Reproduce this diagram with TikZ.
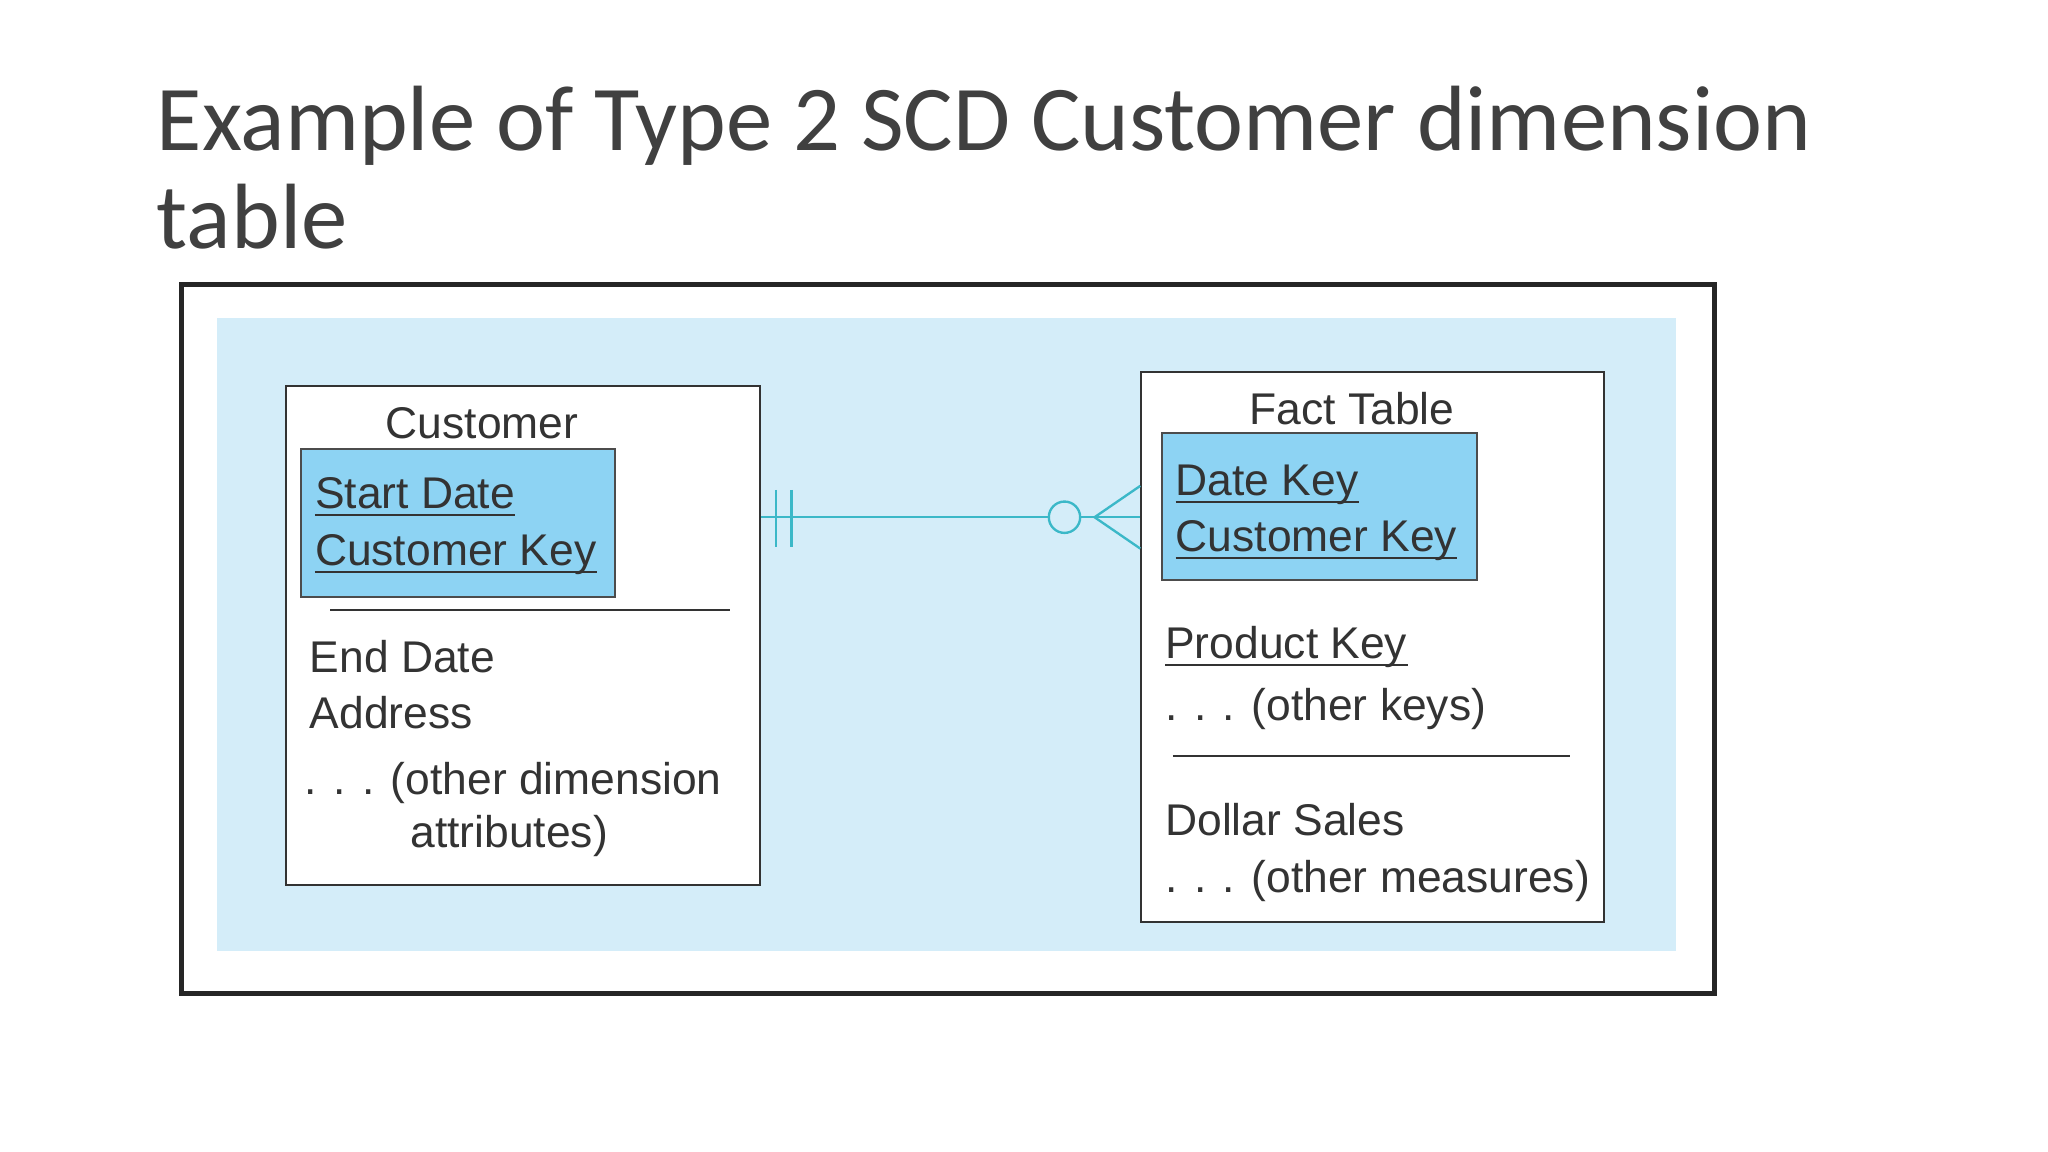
\documentclass[tikz,border=0pt]{standalone}
\usepackage{fontspec}
\setmainfont{Liberation Sans}
\newfontfamily\titlefont{Carlito}
\definecolor{bgblue}{HTML}{D4EDF9}
\definecolor{keyblue}{HTML}{8DD3F3}
\definecolor{conn}{HTML}{3BB8C8}
\definecolor{txt}{HTML}{333333}
\begin{document}
\begin{tikzpicture}[x=1pt,y=-1pt,
  box/.style={draw=black!80,line width=1.5pt,fill=white,inner sep=0pt},
  keybox/.style={draw=black!70,line width=1.5pt,fill=keyblue,inner sep=0pt},
  lbl/.style={anchor=base west,inner sep=0pt,font=\fontsize{34}{40}\selectfont,text=txt},
  ul/.style={lbl,append after command={\pgfextra{\draw[line width=1.5pt,txt] ([yshift=-5pt]\tikzlastnode.base west) -- ([yshift=-5pt]\tikzlastnode.base east);}}},
  clbl/.style={anchor=base,inner sep=0pt,font=\fontsize{34}{40}\selectfont,text=txt},
  ttl/.style={anchor=base west,inner sep=0pt,font=\titlefont\fontsize{71}{80}\selectfont,text=black!75},
  cn/.style={draw=conn,line width=1.8pt}]
\useasboundingbox (0,0) rectangle (1568,882);
\fill[white] (0,0) rectangle (1568,882);
\node[ttl] (title) at (120,115) {Example of Type 2 SCD Customer dimension};
\node[ttl] (title2) at (120,190) {table};
\node[draw=black!85,line width=3.5pt,minimum width=1174pt,minimum height=543pt,anchor=north west,inner sep=0pt] (frame) at (137,216) {};
\node[fill=bgblue,minimum width=1117pt,minimum height=485pt,anchor=north west,inner sep=0pt] (bg) at (166,243) {};
% Customer
\node[box,minimum width=363pt,minimum height=382pt,anchor=north west] (cust) at (218,295) {};
\node[keybox,minimum width=240pt,minimum height=113pt,anchor=north west] (ckey) at (230,343) {};
\node[clbl] (ct) at (369,336) {Customer};
\node[ul] (c1) at (241,389) {Start Date};
\node[ul] (c2) at (241,433) {Customer Key};
\coordinate (cl1) at (253,467); \coordinate (cl2) at (559,467);
\draw[line width=1.5pt,black!80] (cl1) -- (cl2);
\node[lbl] (c3) at (237,515) {End Date};
\node[lbl] (c4) at (237,558) {Address};
\node[lbl] (c5) at (233,608) {. . . (other dimension};
\node[lbl] (c6) at (314,649) {attributes)};
% Fact
\node[box,minimum width=354pt,minimum height=421pt,anchor=north west] (fact) at (873,284) {};
\node[keybox,minimum width=241pt,minimum height=112pt,anchor=north west] (fkey) at (889,331) {};
\node[clbl] (ft) at (1035,325) {Fact Table};
\node[ul] (f1) at (900,379) {Date Key};
\node[ul] (f2) at (900,422) {Customer Key};
\node[ul] (f3) at (892,504) {Product Key};
\node[lbl] (f4) at (892,552) {. . . (other keys)};
\coordinate (fl1) at (898,579); \coordinate (fl2) at (1202,579);
\draw[line width=1.5pt,black!80] (fl1) -- (fl2);
\node[lbl] (f5) at (892,640) {Dollar Sales};
\node[lbl] (f6) at (892,683) {. . . (other measures)};
% connector
\coordinate (a) at (cust.east |- 0,396);
\coordinate (b) at (fact.west |- 0,396);
\draw[cn] (a) -- (803,396);
\draw[cn] (827,396) -- (b);
\draw[cn] (594,375) -- (594,419);
\draw[cn] (606,375) -- (606,419);
\node[circle,cn,minimum size=24pt,inner sep=0pt] (circ) at (815,396) {};
\draw[cn] (873,372) -- (838,396) -- (873,420);
\end{tikzpicture}
\end{document}
